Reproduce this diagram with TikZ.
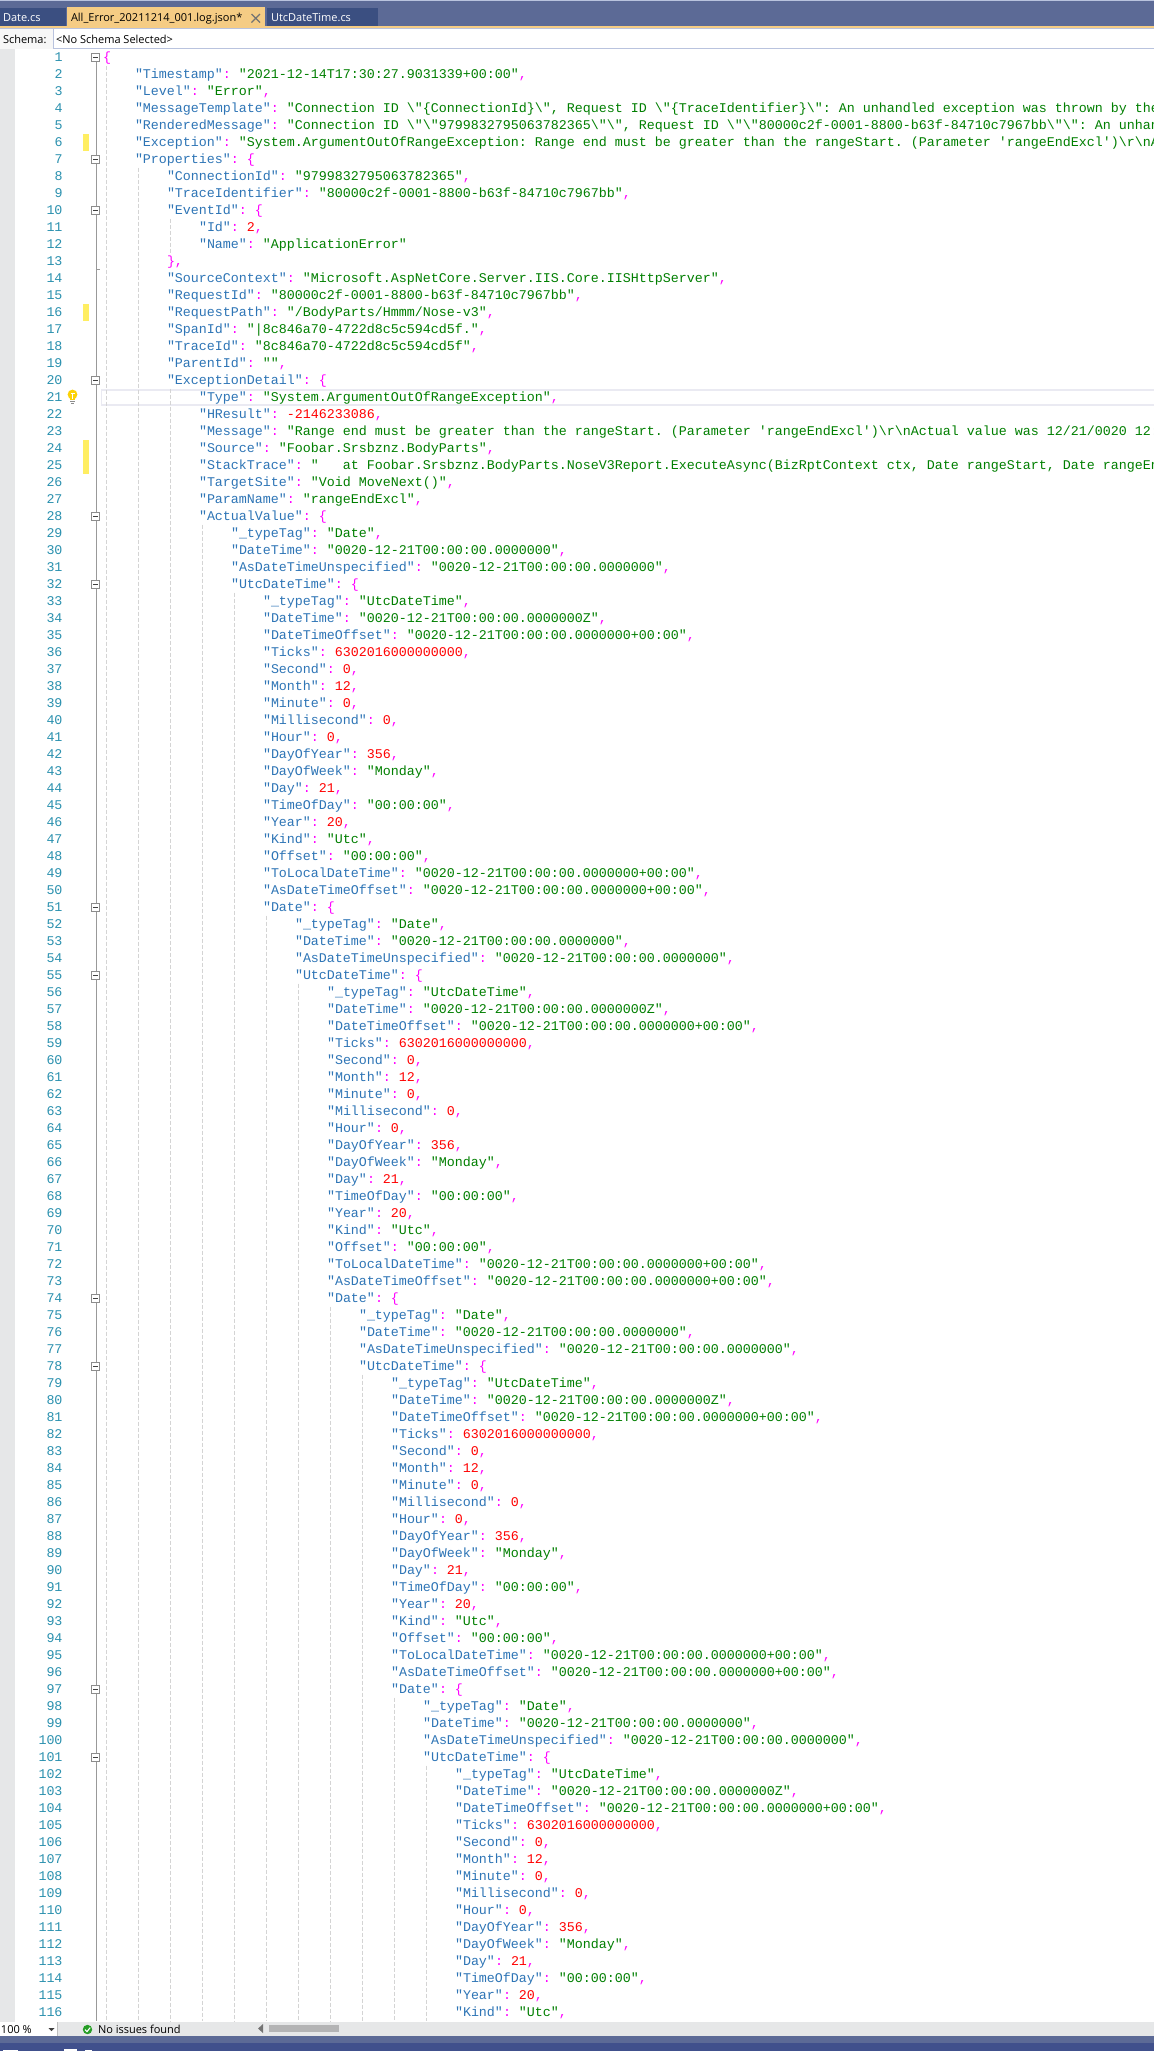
\documentclass[tikz,border=0pt]{standalone}
\usepackage{fontspec}
\newfontfamily\codefont{Liberation Mono}
\newfontfamily\uifont{Open Sans}
\definecolor{jkey}{HTML}{2E75B6}
\definecolor{jstr}{HTML}{007F00}
\definecolor{jnum}{HTML}{FF0000}
\definecolor{jpun}{HTML}{FF00FF}
\definecolor{lnum}{HTML}{2B91AF}
\definecolor{barblue}{HTML}{5C6A96}
\definecolor{bardark}{HTML}{40508C}
\definecolor{tabdark}{HTML}{3B4F81}
\definecolor{tabgold}{HTML}{F5CC84}
\definecolor{lav}{HTML}{B9C3DE}
\definecolor{chrome}{HTML}{E6E7E8}
\definecolor{changed}{HTML}{FFEE62}
\definecolor{curline}{HTML}{EAEAF2}
\tikzset{
  codetext/.style={anchor=base west,inner sep=0pt,outer sep=0pt,font=\fontsize{13.33}{17}\selectfont\codefont\frenchspacing},
  numtext/.style={anchor=base east,inner sep=0pt,outer sep=0pt,text=lnum,font=\fontsize{13.33}{17}\selectfont\codefont},
  uitext/.style={anchor=base west,inner sep=0pt,outer sep=0pt,font=\fontsize{11}{14}\selectfont\uifont\frenchspacing},
  guideline/.style={draw=black!17,line width=0.9pt,dash pattern=on 4pt off 2pt},
  foldbox/.style={draw=black!45,fill=white,line width=0.9pt,minimum size=8pt,inner sep=0pt,outer sep=0pt},
  foldminus/.style={draw=black!75,line width=0.9pt},
  changebar/.style={fill=changed,draw=none}
}
\newcommand{\jk}[1]{\textcolor{jkey}{"#1"}\textcolor{jpun}{:}}
\newcommand{\js}[1]{\textcolor{jstr}{"#1"}}
\newcommand{\jn}[1]{\textcolor{jnum}{#1}}
\newcommand{\jc}{\textcolor{jpun}{,}}
\newcommand{\jo}{\textcolor{jpun}{\{}}
\newcommand{\bsq}{\textbackslash"}
\newcommand{\cdl}[3]{%
  \edef\curl{\the\numexpr#1\relax}\edef\curi{\the\numexpr#2\relax}%
  \pgfmathsetmacro\cx{103+8*\curi}\pgfmathsetmacro\cy{61.5+17*(\curl-1)}%
  \node[numtext] (n\curl) at (62.5,\cy) {\curl};
  \node[codetext] (c\curl) at (\cx,\cy) {#3};
}
\newcommand{\fold}[1]{%
  \edef\curf{\the\numexpr#1\relax}%
  \pgfmathsetmacro\fy{57.5+17*(\curf-1)}%
  \node[foldbox] (f\curf) at (95.5,\fy) {};
  \draw[foldminus] (f\curf.center) +(-2.6,0) -- +(2.6,0);
}
\newcommand{\kvs}[4]{\cdl{#1}{#2}{\jk{#3} \js{#4}\jc}}
\newcommand{\kvn}[4]{\cdl{#1}{#2}{\jk{#3} \jn{#4}\jc}}
\newcommand{\kvo}[3]{\fold{#1}\cdl{#1}{#2}{\jk{#3} \jo}}
\newcommand{\gd}[3]{%
  \pgfmathsetmacro\gx{106.5+32*#1}\pgfmathsetmacro\gya{48.5+17*(#2-1)}%
  \draw[guideline] (\gx,\gya) -- (\gx,#3);
}
\newcommand{\isodt}{0020-12-21T00:00:00.0000000}
\newcommand{\utchead}[2]{%
  \kvs{#1}{#2}{\_typeTag}{UtcDateTime}
  \kvs{#1+1}{#2}{DateTime}{\isodt Z}
  \kvs{#1+2}{#2}{DateTimeOffset}{\isodt+00:00}
  \kvn{#1+3}{#2}{Ticks}{6302016000000000}
  \kvn{#1+4}{#2}{Second}{0}
  \kvn{#1+5}{#2}{Month}{12}
  \kvn{#1+6}{#2}{Minute}{0}
  \kvn{#1+7}{#2}{Millisecond}{0}
  \kvn{#1+8}{#2}{Hour}{0}
  \kvn{#1+9}{#2}{DayOfYear}{356}
  \kvs{#1+10}{#2}{DayOfWeek}{Monday}
  \kvn{#1+11}{#2}{Day}{21}
  \kvs{#1+12}{#2}{TimeOfDay}{00:00:00}
  \kvn{#1+13}{#2}{Year}{20}
  \kvs{#1+14}{#2}{Kind}{Utc}
}
\newcommand{\utctail}[2]{%
  \kvs{#1+15}{#2}{Offset}{00:00:00}
  \kvs{#1+16}{#2}{ToLocalDateTime}{\isodt+00:00}
  \kvs{#1+17}{#2}{AsDateTimeOffset}{\isodt+00:00}
  \kvo{#1+18}{#2}{Date}
  \kvs{#1+19}{#2+4}{\_typeTag}{Date}
  \kvs{#1+20}{#2+4}{DateTime}{\isodt}
  \kvs{#1+21}{#2+4}{AsDateTimeUnspecified}{\isodt}
  \kvo{#1+22}{#2+4}{UtcDateTime}
}
\begin{document}
\begin{tikzpicture}[x=1pt,y=-1pt]
\useasboundingbox (0,0) rectangle (1154,2051);
\fill[white] (0,0) rectangle (1154,2051);
% title / tab strip
\fill[barblue] (0,0) rectangle (1154,26);
\fill[lav] (0,0) rectangle (1154,1);
\fill[tabdark] (0,8) rectangle (66,25.5);
\fill[tabgold] (67,7) rectangle (265,26);
\fill[tabdark] (267,8) rectangle (378,25.5);
\fill[tabgold] (0,26) rectangle (1154,27.5);
\fill[lav] (0,27.5) rectangle (1154,29);
\node[uitext,text=white] (tab1) at (3,21.5) {Date.cs};
\node[uitext,text=black] (tab2) at (71,21.5) {All\_Error\_20211214\_001.log.json*};
\draw[black!55,line width=1.2pt] (251.5,14) -- (260,22.5) (260,14) -- (251.5,22.5);
\node[uitext,text=white] (tab3) at (271,21.5) {UtcDateTime.cs};
% schema row
\fill[black!3] (0,29) rectangle (53,49);
\fill[white] (53,29) rectangle (1154,48);
\draw[lav,line width=1pt] (53.5,29) -- (53.5,48.5) -- (1154,48.5);
\node[uitext,text=black] (schema) at (3,43) {Schema:};
\node[uitext,text=black] (nosel) at (56,43) {<No Schema Selected>};
% left margin
\fill[chrome] (0,49) rectangle (15,2022);
% current line
\draw[curline,line width=1.7pt] (1170,390) -- (101.5,390) -- (101.5,405) -- (1170,405);
% indent guides
\gd{0}{2}{2021}
\gd{1}{8}{2021}
\gd{2}{11}{252.5}
\gd{2}{21}{2021}
\gd{3}{29}{2021}
\gd{4}{33}{2021}
\gd{5}{52}{2021}
\gd{6}{56}{2021}
\gd{7}{75}{2021}
\gd{8}{79}{2021}
\gd{9}{98}{2021}
\gd{10}{102}{2021}
% outlining margin
\draw[black!40,line width=1pt] (96.5,57) -- (96.5,2021);
\draw[black!40,line width=1pt] (96.5,269.5) -- (100,269.5);
% change marks
\fill[changebar] (83.3,134) rectangle (88.7,151);
\fill[changebar] (83.3,304) rectangle (88.7,321);
\fill[changebar] (83.3,440) rectangle (88.7,474);
% light bulb
\fill[yellow!70!orange] (72.5,394.5) circle (4.9);
\fill[yellow!70!orange] (70,397) rectangle (75,400);
\draw[white,line width=0.9pt] (70.5,393) -- (74.5,393) (72.5,393) -- (72.5,399);
\draw[black!45,line width=0.9pt] (70.3,401.2) -- (74.7,401.2) (71,403.2) -- (74,403.2);
% code
\begin{scope}
\clip (0,49) rectangle (1154,2021.5);
\fold{1}\cdl{1}{0}{\jo}
\kvs{2}{4}{Timestamp}{2021-12-14T17:30:27.9031339+00:00}
\kvs{3}{4}{Level}{Error}
\cdl{4}{4}{\jk{MessageTemplate} \textcolor{jstr}{"Connection ID \bsq\{ConnectionId\}\bsq, Request ID \bsq\{TraceIdentifier\}\bsq: An unhandled exception was thrown by the}}
\cdl{5}{4}{\jk{RenderedMessage} \textcolor{jstr}{"Connection ID \bsq\bsq 9799832795063782365\bsq\bsq, Request ID \bsq\bsq 80000c2f-0001-8800-b63f-84710c7967bb\bsq\bsq: An unhan}}
\cdl{6}{4}{\jk{Exception} \textcolor{jstr}{"System.ArgumentOutOfRangeException: Range end must be greater than the rangeStart. (Parameter 'rangeEndExcl')\textbackslash r\textbackslash nA}}
\kvo{7}{4}{Properties}
\kvs{8}{8}{ConnectionId}{9799832795063782365}
\kvs{9}{8}{TraceIdentifier}{80000c2f-0001-8800-b63f-84710c7967bb}
\kvo{10}{8}{EventId}
\kvn{11}{12}{Id}{2}
\cdl{12}{12}{\jk{Name} \js{ApplicationError}}
\cdl{13}{8}{\textcolor{jpun}{\},}}
\kvs{14}{8}{SourceContext}{Microsoft.AspNetCore.Server.IIS.Core.IISHttpServer}
\kvs{15}{8}{RequestId}{80000c2f-0001-8800-b63f-84710c7967bb}
\kvs{16}{8}{RequestPath}{/BodyParts/Hmmm/Nose-v3}
\kvs{17}{8}{SpanId}{|8c846a70-4722d8c5c594cd5f.}
\kvs{18}{8}{TraceId}{8c846a70-4722d8c5c594cd5f}
\kvs{19}{8}{ParentId}{}
\kvo{20}{8}{ExceptionDetail}
\kvs{21}{12}{Type}{System.ArgumentOutOfRangeException}
\kvn{22}{12}{HResult}{-2146233086}
\cdl{23}{12}{\jk{Message} \textcolor{jstr}{"Range end must be greater than the rangeStart. (Parameter 'rangeEndExcl')\textbackslash r\textbackslash nActual value was 12/21/0020 12:}}
\kvs{24}{12}{Source}{Foobar.Srsbznz.BodyParts}
\cdl{25}{12}{\jk{StackTrace} \textcolor{jstr}{"\ \ \ at Foobar.Srsbznz.BodyParts.NoseV3Report.ExecuteAsync(BizRptContext ctx, Date rangeStart, Date rangeEn}}
\kvs{26}{12}{TargetSite}{Void MoveNext()}
\kvs{27}{12}{ParamName}{rangeEndExcl}
\kvo{28}{12}{ActualValue}
\kvs{29}{16}{\_typeTag}{Date}
\kvs{30}{16}{DateTime}{\isodt}
\kvs{31}{16}{AsDateTimeUnspecified}{\isodt}
\kvo{32}{16}{UtcDateTime}
\utchead{33}{20}\utctail{33}{20}
\utchead{56}{28}\utctail{56}{28}
\utchead{79}{36}\utctail{79}{36}
\utchead{102}{44}
\end{scope}
% status bar
\fill[chrome] (0,2021.7) rectangle (1154,2036);
\fill[white] (0,2022) rectangle (57,2036);
\draw[black!25,line width=0.7pt] (57.3,2022) -- (57.3,2036);
\node[uitext,text=black] (zoomlevel) at (1,2033.5) {100 \%};
\fill[black!75] (48.5,2028) -- (54.5,2028) -- (51.5,2031) -- cycle;
\fill[green!55!black!85] (87.5,2029.5) circle (4.7);
\draw[white,line width=1.1pt] (85,2029.5) -- (87,2031.6) -- (90.2,2027.6);
\node[uitext,text=black] (issues) at (98,2033.5) {No issues found};
\fill[black!55] (263,2024) -- (263,2033) -- (258,2028.5) -- cycle;
\fill[black!22!chrome] (269,2025) rectangle (339,2032);
% bottom strips
\fill[barblue] (0,2036) rectangle (1154,2042.8);
\fill[bardark] (0,2042.8) rectangle (1154,2051);
\fill[white] (3,2050) rectangle (18,2051);
\fill[white] (64,2049.3) rectangle (77,2051);
\fill[white] (85,2049.6) rectangle (92,2051);
\end{tikzpicture}
\end{document}
